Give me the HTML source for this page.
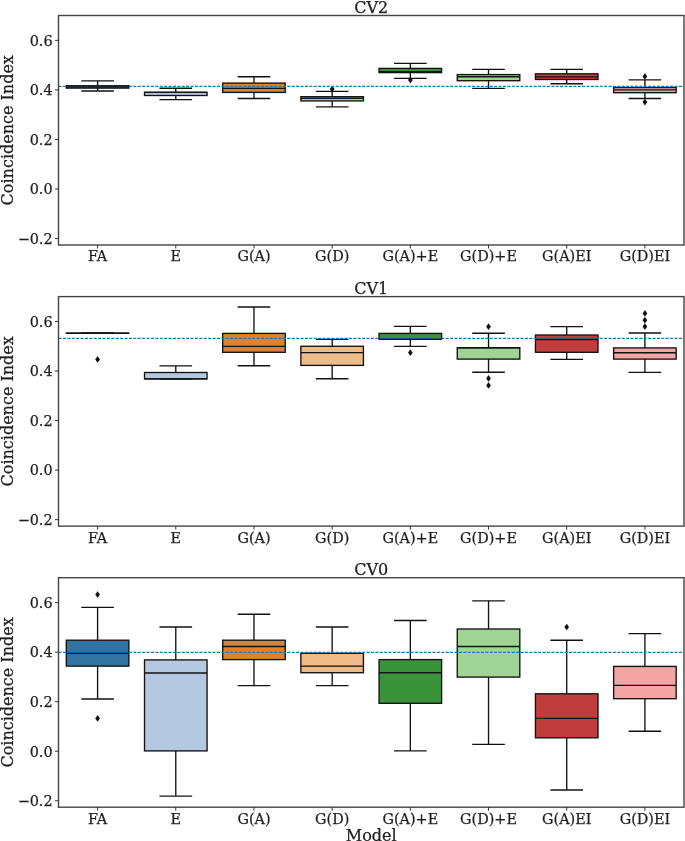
<!DOCTYPE html><html><head><meta charset="utf-8"><style>html,body{margin:0;padding:0;background:#fff;overflow:hidden;}svg{display:block;}text{font-family:"DejaVu Serif","Liberation Serif",serif;fill:#1e1e1e;stroke:#1e1e1e;stroke-width:0.25px;}</style></head><body>
<svg width="685" height="841" viewBox="0 0 685 841">
<rect x="0" y="0" width="685" height="841" fill="#fff"/>
<rect x="66.32" y="85.7" width="62.55" height="2.4" fill="#3274a1" stroke="#121212" stroke-width="1.35" stroke-linejoin="miter"/>
<line x1="97.59" y1="85.7" x2="97.59" y2="80.8" stroke="#121212" stroke-width="1.35"/>
<line x1="97.59" y1="88.1" x2="97.59" y2="91" stroke="#121212" stroke-width="1.35"/>
<line x1="81.96" y1="80.8" x2="113.23" y2="80.8" stroke="#121212" stroke-width="1.35" stroke-linecap="square"/>
<line x1="81.96" y1="91" x2="113.23" y2="91" stroke="#121212" stroke-width="1.35" stroke-linecap="square"/>
<rect x="144.51" y="92.3" width="62.55" height="3.2" fill="#b5c8e1" stroke="#121212" stroke-width="1.35" stroke-linejoin="miter"/>
<line x1="175.78" y1="92.3" x2="175.78" y2="88.2" stroke="#121212" stroke-width="1.35"/>
<line x1="175.78" y1="95.5" x2="175.78" y2="99.6" stroke="#121212" stroke-width="1.35"/>
<line x1="160.14" y1="88.2" x2="191.42" y2="88.2" stroke="#121212" stroke-width="1.35" stroke-linecap="square"/>
<line x1="160.14" y1="99.6" x2="191.42" y2="99.6" stroke="#121212" stroke-width="1.35" stroke-linecap="square"/>
<rect x="222.69" y="83.1" width="62.55" height="9.3" fill="#e1812c" stroke="#121212" stroke-width="1.35" stroke-linejoin="miter"/>
<line x1="253.97" y1="83.1" x2="253.97" y2="76.7" stroke="#121212" stroke-width="1.35"/>
<line x1="253.97" y1="92.4" x2="253.97" y2="98.5" stroke="#121212" stroke-width="1.35"/>
<line x1="238.33" y1="76.7" x2="269.61" y2="76.7" stroke="#121212" stroke-width="1.35" stroke-linecap="square"/>
<line x1="238.33" y1="98.5" x2="269.61" y2="98.5" stroke="#121212" stroke-width="1.35" stroke-linecap="square"/>
<rect x="300.88" y="96.7" width="62.55" height="4.2" fill="#eebb89" stroke="#121212" stroke-width="1.35" stroke-linejoin="miter"/>
<line x1="332.16" y1="96.7" x2="332.16" y2="91.4" stroke="#121212" stroke-width="1.35"/>
<line x1="332.16" y1="100.9" x2="332.16" y2="106.8" stroke="#121212" stroke-width="1.35"/>
<line x1="316.52" y1="91.4" x2="347.79" y2="91.4" stroke="#121212" stroke-width="1.35" stroke-linecap="square"/>
<line x1="316.52" y1="106.8" x2="347.79" y2="106.8" stroke="#121212" stroke-width="1.35" stroke-linecap="square"/>
<path d="M332.16 85.75L334.51 89.1L332.16 92.45L329.81 89.1Z" fill="#121212"/>
<rect x="379.07" y="68.4" width="62.55" height="4.2" fill="#3a923a" stroke="#121212" stroke-width="1.35" stroke-linejoin="miter"/>
<line x1="410.34" y1="68.4" x2="410.34" y2="63.4" stroke="#121212" stroke-width="1.35"/>
<line x1="410.34" y1="72.6" x2="410.34" y2="78.4" stroke="#121212" stroke-width="1.35"/>
<line x1="394.71" y1="63.4" x2="425.98" y2="63.4" stroke="#121212" stroke-width="1.35" stroke-linecap="square"/>
<line x1="394.71" y1="78.4" x2="425.98" y2="78.4" stroke="#121212" stroke-width="1.35" stroke-linecap="square"/>
<path d="M410.34 76.75L412.69 80.1L410.34 83.45L407.99 80.1Z" fill="#121212"/>
<rect x="457.26" y="74.6" width="62.55" height="6.1" fill="#9fd495" stroke="#121212" stroke-width="1.35" stroke-linejoin="miter"/>
<line x1="488.53" y1="74.6" x2="488.53" y2="69.3" stroke="#121212" stroke-width="1.35"/>
<line x1="488.53" y1="80.7" x2="488.53" y2="88.3" stroke="#121212" stroke-width="1.35"/>
<line x1="472.89" y1="69.3" x2="504.17" y2="69.3" stroke="#121212" stroke-width="1.35" stroke-linecap="square"/>
<line x1="472.89" y1="88.3" x2="504.17" y2="88.3" stroke="#121212" stroke-width="1.35" stroke-linecap="square"/>
<rect x="535.44" y="73.8" width="62.55" height="5.7" fill="#c03d3e" stroke="#121212" stroke-width="1.35" stroke-linejoin="miter"/>
<line x1="566.72" y1="73.8" x2="566.72" y2="69.3" stroke="#121212" stroke-width="1.35"/>
<line x1="566.72" y1="79.5" x2="566.72" y2="83.7" stroke="#121212" stroke-width="1.35"/>
<line x1="551.08" y1="69.3" x2="582.36" y2="69.3" stroke="#121212" stroke-width="1.35" stroke-linecap="square"/>
<line x1="551.08" y1="83.7" x2="582.36" y2="83.7" stroke="#121212" stroke-width="1.35" stroke-linecap="square"/>
<rect x="613.63" y="87.5" width="62.55" height="5.2" fill="#f2a5a3" stroke="#121212" stroke-width="1.35" stroke-linejoin="miter"/>
<line x1="644.91" y1="87.5" x2="644.91" y2="79.8" stroke="#121212" stroke-width="1.35"/>
<line x1="644.91" y1="92.7" x2="644.91" y2="98.5" stroke="#121212" stroke-width="1.35"/>
<line x1="629.27" y1="79.8" x2="660.54" y2="79.8" stroke="#121212" stroke-width="1.35" stroke-linecap="square"/>
<line x1="629.27" y1="98.5" x2="660.54" y2="98.5" stroke="#121212" stroke-width="1.35" stroke-linecap="square"/>
<path d="M644.91 73.05L647.26 76.4L644.91 79.75L642.56 76.4Z" fill="#121212"/>
<path d="M644.91 98.75L647.26 102.1L644.91 105.45L642.56 102.1Z" fill="#121212"/>
<line x1="58.5" y1="86.4" x2="684" y2="86.4" stroke="#1f77b4" stroke-width="1.1" stroke-dasharray="3.07 1.33"/>
<line x1="66.32" y1="86.9" x2="128.87" y2="86.9" stroke="#121212" stroke-width="1.35"/>
<line x1="144.51" y1="92.3" x2="207.06" y2="92.3" stroke="#121212" stroke-width="1.35"/>
<line x1="222.69" y1="88.4" x2="285.24" y2="88.4" stroke="#121212" stroke-width="1.35"/>
<line x1="300.88" y1="98.2" x2="363.43" y2="98.2" stroke="#121212" stroke-width="1.35"/>
<line x1="379.07" y1="71.6" x2="441.62" y2="71.6" stroke="#121212" stroke-width="1.35"/>
<line x1="457.26" y1="76.7" x2="519.81" y2="76.7" stroke="#121212" stroke-width="1.35"/>
<line x1="535.44" y1="76.8" x2="597.99" y2="76.8" stroke="#121212" stroke-width="1.35"/>
<line x1="613.63" y1="89.9" x2="676.18" y2="89.9" stroke="#121212" stroke-width="1.35"/>
<rect x="58.5" y="15.5" width="625.5" height="229.5" fill="none" stroke="#444" stroke-width="1.4"/>
<line x1="55" y1="238.54" x2="58.5" y2="238.54" stroke="#333" stroke-width="1"/>
<text x="52.6" y="243.84" font-size="14.4" text-anchor="end">−0.2</text>
<line x1="55" y1="189" x2="58.5" y2="189" stroke="#333" stroke-width="1"/>
<text x="52.6" y="194.3" font-size="14.4" text-anchor="end">0.0</text>
<line x1="55" y1="139.46" x2="58.5" y2="139.46" stroke="#333" stroke-width="1"/>
<text x="52.6" y="144.76" font-size="14.4" text-anchor="end">0.2</text>
<line x1="55" y1="89.92" x2="58.5" y2="89.92" stroke="#333" stroke-width="1"/>
<text x="52.6" y="95.22" font-size="14.4" text-anchor="end">0.4</text>
<line x1="55" y1="40.38" x2="58.5" y2="40.38" stroke="#333" stroke-width="1"/>
<text x="52.6" y="45.68" font-size="14.4" text-anchor="end">0.6</text>
<line x1="97.59" y1="245" x2="97.59" y2="248.5" stroke="#333" stroke-width="1"/>
<text x="97.59" y="261.4" font-size="14.4" text-anchor="middle">FA</text>
<line x1="175.78" y1="245" x2="175.78" y2="248.5" stroke="#333" stroke-width="1"/>
<text x="175.78" y="261.4" font-size="14.4" text-anchor="middle">E</text>
<line x1="253.97" y1="245" x2="253.97" y2="248.5" stroke="#333" stroke-width="1"/>
<text x="253.97" y="261.4" font-size="14.4" text-anchor="middle">G(A)</text>
<line x1="332.16" y1="245" x2="332.16" y2="248.5" stroke="#333" stroke-width="1"/>
<text x="332.16" y="261.4" font-size="14.4" text-anchor="middle">G(D)</text>
<line x1="410.34" y1="245" x2="410.34" y2="248.5" stroke="#333" stroke-width="1"/>
<text x="410.34" y="261.4" font-size="14.4" text-anchor="middle">G(A)+E</text>
<line x1="488.53" y1="245" x2="488.53" y2="248.5" stroke="#333" stroke-width="1"/>
<text x="488.53" y="261.4" font-size="14.4" text-anchor="middle">G(D)+E</text>
<line x1="566.72" y1="245" x2="566.72" y2="248.5" stroke="#333" stroke-width="1"/>
<text x="566.72" y="261.4" font-size="14.4" text-anchor="middle">G(A)EI</text>
<line x1="644.91" y1="245" x2="644.91" y2="248.5" stroke="#333" stroke-width="1"/>
<text x="644.91" y="261.4" font-size="14.4" text-anchor="middle">G(D)EI</text>
<text x="371.25" y="13.2" font-size="16.0" text-anchor="middle">CV2</text>
<text transform="translate(12.6 130.25) rotate(-90)" x="0" y="0" font-size="16.0" text-anchor="middle">Coincidence Index</text>
<rect x="66.32" y="333.2" width="62.55" height="0.01" fill="#3274a1" stroke="#121212" stroke-width="1.35" stroke-linejoin="miter"/>
<line x1="81.96" y1="333.2" x2="113.23" y2="333.2" stroke="#121212" stroke-width="1.35" stroke-linecap="square"/>
<line x1="81.96" y1="333.2" x2="113.23" y2="333.2" stroke="#121212" stroke-width="1.35" stroke-linecap="square"/>
<path d="M97.59 356.05L99.94 359.4L97.59 362.75L95.24 359.4Z" fill="#121212"/>
<rect x="144.51" y="372.5" width="62.55" height="6.4" fill="#b5c8e1" stroke="#121212" stroke-width="1.35" stroke-linejoin="miter"/>
<line x1="175.78" y1="372.5" x2="175.78" y2="365.9" stroke="#121212" stroke-width="1.35"/>
<line x1="160.14" y1="365.9" x2="191.42" y2="365.9" stroke="#121212" stroke-width="1.35" stroke-linecap="square"/>
<line x1="160.14" y1="378.9" x2="191.42" y2="378.9" stroke="#121212" stroke-width="1.35" stroke-linecap="square"/>
<rect x="222.69" y="333.4" width="62.55" height="18.9" fill="#e1812c" stroke="#121212" stroke-width="1.35" stroke-linejoin="miter"/>
<line x1="253.97" y1="333.4" x2="253.97" y2="307" stroke="#121212" stroke-width="1.35"/>
<line x1="253.97" y1="352.3" x2="253.97" y2="365.7" stroke="#121212" stroke-width="1.35"/>
<line x1="238.33" y1="307" x2="269.61" y2="307" stroke="#121212" stroke-width="1.35" stroke-linecap="square"/>
<line x1="238.33" y1="365.7" x2="269.61" y2="365.7" stroke="#121212" stroke-width="1.35" stroke-linecap="square"/>
<rect x="300.88" y="346.3" width="62.55" height="19.1" fill="#eebb89" stroke="#121212" stroke-width="1.35" stroke-linejoin="miter"/>
<line x1="332.16" y1="346.3" x2="332.16" y2="339.3" stroke="#121212" stroke-width="1.35"/>
<line x1="332.16" y1="365.4" x2="332.16" y2="378.7" stroke="#121212" stroke-width="1.35"/>
<line x1="316.52" y1="339.3" x2="347.79" y2="339.3" stroke="#121212" stroke-width="1.35" stroke-linecap="square"/>
<line x1="316.52" y1="378.7" x2="347.79" y2="378.7" stroke="#121212" stroke-width="1.35" stroke-linecap="square"/>
<rect x="379.07" y="333.4" width="62.55" height="5.9" fill="#3a923a" stroke="#121212" stroke-width="1.35" stroke-linejoin="miter"/>
<line x1="410.34" y1="333.4" x2="410.34" y2="326.4" stroke="#121212" stroke-width="1.35"/>
<line x1="410.34" y1="339.3" x2="410.34" y2="346.3" stroke="#121212" stroke-width="1.35"/>
<line x1="394.71" y1="326.4" x2="425.98" y2="326.4" stroke="#121212" stroke-width="1.35" stroke-linecap="square"/>
<line x1="394.71" y1="346.3" x2="425.98" y2="346.3" stroke="#121212" stroke-width="1.35" stroke-linecap="square"/>
<path d="M410.34 349.35L412.69 352.7L410.34 356.05L407.99 352.7Z" fill="#121212"/>
<rect x="457.26" y="347.7" width="62.55" height="11.4" fill="#9fd495" stroke="#121212" stroke-width="1.35" stroke-linejoin="miter"/>
<line x1="488.53" y1="347.7" x2="488.53" y2="333.2" stroke="#121212" stroke-width="1.35"/>
<line x1="488.53" y1="359.1" x2="488.53" y2="372.2" stroke="#121212" stroke-width="1.35"/>
<line x1="472.89" y1="333.2" x2="504.17" y2="333.2" stroke="#121212" stroke-width="1.35" stroke-linecap="square"/>
<line x1="472.89" y1="372.2" x2="504.17" y2="372.2" stroke="#121212" stroke-width="1.35" stroke-linecap="square"/>
<path d="M488.53 323.35L490.88 326.7L488.53 330.05L486.18 326.7Z" fill="#121212"/>
<path d="M488.53 375.05L490.88 378.4L488.53 381.75L486.18 378.4Z" fill="#121212"/>
<path d="M488.53 382.05L490.88 385.4L488.53 388.75L486.18 385.4Z" fill="#121212"/>
<rect x="535.44" y="335" width="62.55" height="17.3" fill="#c03d3e" stroke="#121212" stroke-width="1.35" stroke-linejoin="miter"/>
<line x1="566.72" y1="335" x2="566.72" y2="326.6" stroke="#121212" stroke-width="1.35"/>
<line x1="566.72" y1="352.3" x2="566.72" y2="359.3" stroke="#121212" stroke-width="1.35"/>
<line x1="551.08" y1="326.6" x2="582.36" y2="326.6" stroke="#121212" stroke-width="1.35" stroke-linecap="square"/>
<line x1="551.08" y1="359.3" x2="582.36" y2="359.3" stroke="#121212" stroke-width="1.35" stroke-linecap="square"/>
<rect x="613.63" y="347.9" width="62.55" height="11.2" fill="#f2a5a3" stroke="#121212" stroke-width="1.35" stroke-linejoin="miter"/>
<line x1="644.91" y1="347.9" x2="644.91" y2="333" stroke="#121212" stroke-width="1.35"/>
<line x1="644.91" y1="359.1" x2="644.91" y2="372.4" stroke="#121212" stroke-width="1.35"/>
<line x1="629.27" y1="333" x2="660.54" y2="333" stroke="#121212" stroke-width="1.35" stroke-linecap="square"/>
<line x1="629.27" y1="372.4" x2="660.54" y2="372.4" stroke="#121212" stroke-width="1.35" stroke-linecap="square"/>
<path d="M644.91 310.05L647.26 313.4L644.91 316.75L642.56 313.4Z" fill="#121212"/>
<path d="M644.91 316.85L647.26 320.2L644.91 323.55L642.56 320.2Z" fill="#121212"/>
<path d="M644.91 323.25L647.26 326.6L644.91 329.95L642.56 326.6Z" fill="#121212"/>
<line x1="58.5" y1="338.4" x2="684" y2="338.4" stroke="#1f77b4" stroke-width="1.1" stroke-dasharray="3.07 1.33"/>
<line x1="66.32" y1="333.2" x2="128.87" y2="333.2" stroke="#121212" stroke-width="1.35"/>
<line x1="144.51" y1="378.9" x2="207.06" y2="378.9" stroke="#121212" stroke-width="1.35"/>
<line x1="222.69" y1="346.3" x2="285.24" y2="346.3" stroke="#121212" stroke-width="1.35"/>
<line x1="300.88" y1="352.6" x2="363.43" y2="352.6" stroke="#121212" stroke-width="1.35"/>
<line x1="379.07" y1="339.3" x2="441.62" y2="339.3" stroke="#121212" stroke-width="1.35"/>
<line x1="457.26" y1="347.7" x2="519.81" y2="347.7" stroke="#121212" stroke-width="1.35"/>
<line x1="535.44" y1="339.5" x2="597.99" y2="339.5" stroke="#121212" stroke-width="1.35"/>
<line x1="613.63" y1="352.7" x2="676.18" y2="352.7" stroke="#121212" stroke-width="1.35"/>
<rect x="58.5" y="296.6" width="625.5" height="229.5" fill="none" stroke="#444" stroke-width="1.4"/>
<line x1="55" y1="519.64" x2="58.5" y2="519.64" stroke="#333" stroke-width="1"/>
<text x="52.6" y="524.94" font-size="14.4" text-anchor="end">−0.2</text>
<line x1="55" y1="470.1" x2="58.5" y2="470.1" stroke="#333" stroke-width="1"/>
<text x="52.6" y="475.4" font-size="14.4" text-anchor="end">0.0</text>
<line x1="55" y1="420.56" x2="58.5" y2="420.56" stroke="#333" stroke-width="1"/>
<text x="52.6" y="425.86" font-size="14.4" text-anchor="end">0.2</text>
<line x1="55" y1="371.02" x2="58.5" y2="371.02" stroke="#333" stroke-width="1"/>
<text x="52.6" y="376.32" font-size="14.4" text-anchor="end">0.4</text>
<line x1="55" y1="321.48" x2="58.5" y2="321.48" stroke="#333" stroke-width="1"/>
<text x="52.6" y="326.78" font-size="14.4" text-anchor="end">0.6</text>
<line x1="97.59" y1="526.1" x2="97.59" y2="529.6" stroke="#333" stroke-width="1"/>
<text x="97.59" y="542.5" font-size="14.4" text-anchor="middle">FA</text>
<line x1="175.78" y1="526.1" x2="175.78" y2="529.6" stroke="#333" stroke-width="1"/>
<text x="175.78" y="542.5" font-size="14.4" text-anchor="middle">E</text>
<line x1="253.97" y1="526.1" x2="253.97" y2="529.6" stroke="#333" stroke-width="1"/>
<text x="253.97" y="542.5" font-size="14.4" text-anchor="middle">G(A)</text>
<line x1="332.16" y1="526.1" x2="332.16" y2="529.6" stroke="#333" stroke-width="1"/>
<text x="332.16" y="542.5" font-size="14.4" text-anchor="middle">G(D)</text>
<line x1="410.34" y1="526.1" x2="410.34" y2="529.6" stroke="#333" stroke-width="1"/>
<text x="410.34" y="542.5" font-size="14.4" text-anchor="middle">G(A)+E</text>
<line x1="488.53" y1="526.1" x2="488.53" y2="529.6" stroke="#333" stroke-width="1"/>
<text x="488.53" y="542.5" font-size="14.4" text-anchor="middle">G(D)+E</text>
<line x1="566.72" y1="526.1" x2="566.72" y2="529.6" stroke="#333" stroke-width="1"/>
<text x="566.72" y="542.5" font-size="14.4" text-anchor="middle">G(A)EI</text>
<line x1="644.91" y1="526.1" x2="644.91" y2="529.6" stroke="#333" stroke-width="1"/>
<text x="644.91" y="542.5" font-size="14.4" text-anchor="middle">G(D)EI</text>
<text x="371.25" y="294.3" font-size="16.0" text-anchor="middle">CV1</text>
<text transform="translate(12.6 411.35) rotate(-90)" x="0" y="0" font-size="16.0" text-anchor="middle">Coincidence Index</text>
<rect x="66.32" y="640.2" width="62.55" height="25.9" fill="#3274a1" stroke="#121212" stroke-width="1.35" stroke-linejoin="miter"/>
<line x1="97.59" y1="640.2" x2="97.59" y2="607.3" stroke="#121212" stroke-width="1.35"/>
<line x1="97.59" y1="666.1" x2="97.59" y2="699" stroke="#121212" stroke-width="1.35"/>
<line x1="81.96" y1="607.3" x2="113.23" y2="607.3" stroke="#121212" stroke-width="1.35" stroke-linecap="square"/>
<line x1="81.96" y1="699" x2="113.23" y2="699" stroke="#121212" stroke-width="1.35" stroke-linecap="square"/>
<path d="M97.59 591.15L99.94 594.5L97.59 597.85L95.24 594.5Z" fill="#121212"/>
<path d="M97.59 715.05L99.94 718.4L97.59 721.75L95.24 718.4Z" fill="#121212"/>
<rect x="144.51" y="659.9" width="62.55" height="91" fill="#b5c8e1" stroke="#121212" stroke-width="1.35" stroke-linejoin="miter"/>
<line x1="175.78" y1="659.9" x2="175.78" y2="627" stroke="#121212" stroke-width="1.35"/>
<line x1="175.78" y1="750.9" x2="175.78" y2="796.1" stroke="#121212" stroke-width="1.35"/>
<line x1="160.14" y1="627" x2="191.42" y2="627" stroke="#121212" stroke-width="1.35" stroke-linecap="square"/>
<line x1="160.14" y1="796.1" x2="191.42" y2="796.1" stroke="#121212" stroke-width="1.35" stroke-linecap="square"/>
<rect x="222.69" y="640.2" width="62.55" height="19.4" fill="#e1812c" stroke="#121212" stroke-width="1.35" stroke-linejoin="miter"/>
<line x1="253.97" y1="640.2" x2="253.97" y2="614.2" stroke="#121212" stroke-width="1.35"/>
<line x1="253.97" y1="659.6" x2="253.97" y2="685.6" stroke="#121212" stroke-width="1.35"/>
<line x1="238.33" y1="614.2" x2="269.61" y2="614.2" stroke="#121212" stroke-width="1.35" stroke-linecap="square"/>
<line x1="238.33" y1="685.6" x2="269.61" y2="685.6" stroke="#121212" stroke-width="1.35" stroke-linecap="square"/>
<rect x="300.88" y="653.3" width="62.55" height="19.4" fill="#eebb89" stroke="#121212" stroke-width="1.35" stroke-linejoin="miter"/>
<line x1="332.16" y1="653.3" x2="332.16" y2="627" stroke="#121212" stroke-width="1.35"/>
<line x1="332.16" y1="672.7" x2="332.16" y2="685.6" stroke="#121212" stroke-width="1.35"/>
<line x1="316.52" y1="627" x2="347.79" y2="627" stroke="#121212" stroke-width="1.35" stroke-linecap="square"/>
<line x1="316.52" y1="685.6" x2="347.79" y2="685.6" stroke="#121212" stroke-width="1.35" stroke-linecap="square"/>
<rect x="379.07" y="659.6" width="62.55" height="43.7" fill="#3a923a" stroke="#121212" stroke-width="1.35" stroke-linejoin="miter"/>
<line x1="410.34" y1="659.6" x2="410.34" y2="620.5" stroke="#121212" stroke-width="1.35"/>
<line x1="410.34" y1="703.3" x2="410.34" y2="750.9" stroke="#121212" stroke-width="1.35"/>
<line x1="394.71" y1="620.5" x2="425.98" y2="620.5" stroke="#121212" stroke-width="1.35" stroke-linecap="square"/>
<line x1="394.71" y1="750.9" x2="425.98" y2="750.9" stroke="#121212" stroke-width="1.35" stroke-linecap="square"/>
<rect x="457.26" y="629" width="62.55" height="48.1" fill="#9fd495" stroke="#121212" stroke-width="1.35" stroke-linejoin="miter"/>
<line x1="488.53" y1="629" x2="488.53" y2="600.8" stroke="#121212" stroke-width="1.35"/>
<line x1="488.53" y1="677.1" x2="488.53" y2="744.4" stroke="#121212" stroke-width="1.35"/>
<line x1="472.89" y1="600.8" x2="504.17" y2="600.8" stroke="#121212" stroke-width="1.35" stroke-linecap="square"/>
<line x1="472.89" y1="744.4" x2="504.17" y2="744.4" stroke="#121212" stroke-width="1.35" stroke-linecap="square"/>
<rect x="535.44" y="693.8" width="62.55" height="44" fill="#c03d3e" stroke="#121212" stroke-width="1.35" stroke-linejoin="miter"/>
<line x1="566.72" y1="693.8" x2="566.72" y2="640.2" stroke="#121212" stroke-width="1.35"/>
<line x1="566.72" y1="737.8" x2="566.72" y2="790" stroke="#121212" stroke-width="1.35"/>
<line x1="551.08" y1="640.2" x2="582.36" y2="640.2" stroke="#121212" stroke-width="1.35" stroke-linecap="square"/>
<line x1="551.08" y1="790" x2="582.36" y2="790" stroke="#121212" stroke-width="1.35" stroke-linecap="square"/>
<path d="M566.72 623.65L569.07 627L566.72 630.35L564.37 627Z" fill="#121212"/>
<rect x="613.63" y="666.4" width="62.55" height="32.3" fill="#f2a5a3" stroke="#121212" stroke-width="1.35" stroke-linejoin="miter"/>
<line x1="644.91" y1="666.4" x2="644.91" y2="633.6" stroke="#121212" stroke-width="1.35"/>
<line x1="644.91" y1="698.7" x2="644.91" y2="731.2" stroke="#121212" stroke-width="1.35"/>
<line x1="629.27" y1="633.6" x2="660.54" y2="633.6" stroke="#121212" stroke-width="1.35" stroke-linecap="square"/>
<line x1="629.27" y1="731.2" x2="660.54" y2="731.2" stroke="#121212" stroke-width="1.35" stroke-linecap="square"/>
<line x1="58.5" y1="652.4" x2="684" y2="652.4" stroke="#1f77b4" stroke-width="1.1" stroke-dasharray="3.07 1.33"/>
<line x1="66.32" y1="653.3" x2="128.87" y2="653.3" stroke="#121212" stroke-width="1.35"/>
<line x1="144.51" y1="673" x2="207.06" y2="673" stroke="#121212" stroke-width="1.35"/>
<line x1="222.69" y1="646.5" x2="285.24" y2="646.5" stroke="#121212" stroke-width="1.35"/>
<line x1="300.88" y1="666.1" x2="363.43" y2="666.1" stroke="#121212" stroke-width="1.35"/>
<line x1="379.07" y1="672.7" x2="441.62" y2="672.7" stroke="#121212" stroke-width="1.35"/>
<line x1="457.26" y1="646.5" x2="519.81" y2="646.5" stroke="#121212" stroke-width="1.35"/>
<line x1="535.44" y1="718.4" x2="597.99" y2="718.4" stroke="#121212" stroke-width="1.35"/>
<line x1="613.63" y1="685.3" x2="676.18" y2="685.3" stroke="#121212" stroke-width="1.35"/>
<rect x="58.5" y="577.7" width="625.5" height="229.5" fill="none" stroke="#444" stroke-width="1.4"/>
<line x1="55" y1="800.74" x2="58.5" y2="800.74" stroke="#333" stroke-width="1"/>
<text x="52.6" y="806.04" font-size="14.4" text-anchor="end">−0.2</text>
<line x1="55" y1="751.2" x2="58.5" y2="751.2" stroke="#333" stroke-width="1"/>
<text x="52.6" y="756.5" font-size="14.4" text-anchor="end">0.0</text>
<line x1="55" y1="701.66" x2="58.5" y2="701.66" stroke="#333" stroke-width="1"/>
<text x="52.6" y="706.96" font-size="14.4" text-anchor="end">0.2</text>
<line x1="55" y1="652.12" x2="58.5" y2="652.12" stroke="#333" stroke-width="1"/>
<text x="52.6" y="657.42" font-size="14.4" text-anchor="end">0.4</text>
<line x1="55" y1="602.58" x2="58.5" y2="602.58" stroke="#333" stroke-width="1"/>
<text x="52.6" y="607.88" font-size="14.4" text-anchor="end">0.6</text>
<line x1="97.59" y1="807.2" x2="97.59" y2="810.7" stroke="#333" stroke-width="1"/>
<text x="97.59" y="823.6" font-size="14.4" text-anchor="middle">FA</text>
<line x1="175.78" y1="807.2" x2="175.78" y2="810.7" stroke="#333" stroke-width="1"/>
<text x="175.78" y="823.6" font-size="14.4" text-anchor="middle">E</text>
<line x1="253.97" y1="807.2" x2="253.97" y2="810.7" stroke="#333" stroke-width="1"/>
<text x="253.97" y="823.6" font-size="14.4" text-anchor="middle">G(A)</text>
<line x1="332.16" y1="807.2" x2="332.16" y2="810.7" stroke="#333" stroke-width="1"/>
<text x="332.16" y="823.6" font-size="14.4" text-anchor="middle">G(D)</text>
<line x1="410.34" y1="807.2" x2="410.34" y2="810.7" stroke="#333" stroke-width="1"/>
<text x="410.34" y="823.6" font-size="14.4" text-anchor="middle">G(A)+E</text>
<line x1="488.53" y1="807.2" x2="488.53" y2="810.7" stroke="#333" stroke-width="1"/>
<text x="488.53" y="823.6" font-size="14.4" text-anchor="middle">G(D)+E</text>
<line x1="566.72" y1="807.2" x2="566.72" y2="810.7" stroke="#333" stroke-width="1"/>
<text x="566.72" y="823.6" font-size="14.4" text-anchor="middle">G(A)EI</text>
<line x1="644.91" y1="807.2" x2="644.91" y2="810.7" stroke="#333" stroke-width="1"/>
<text x="644.91" y="823.6" font-size="14.4" text-anchor="middle">G(D)EI</text>
<text x="371.25" y="575.4" font-size="16.0" text-anchor="middle">CV0</text>
<text transform="translate(12.6 692.45) rotate(-90)" x="0" y="0" font-size="16.0" text-anchor="middle">Coincidence Index</text>
<text x="371.25" y="841.3" font-size="16.0" text-anchor="middle">Model</text>
</svg></body></html>
